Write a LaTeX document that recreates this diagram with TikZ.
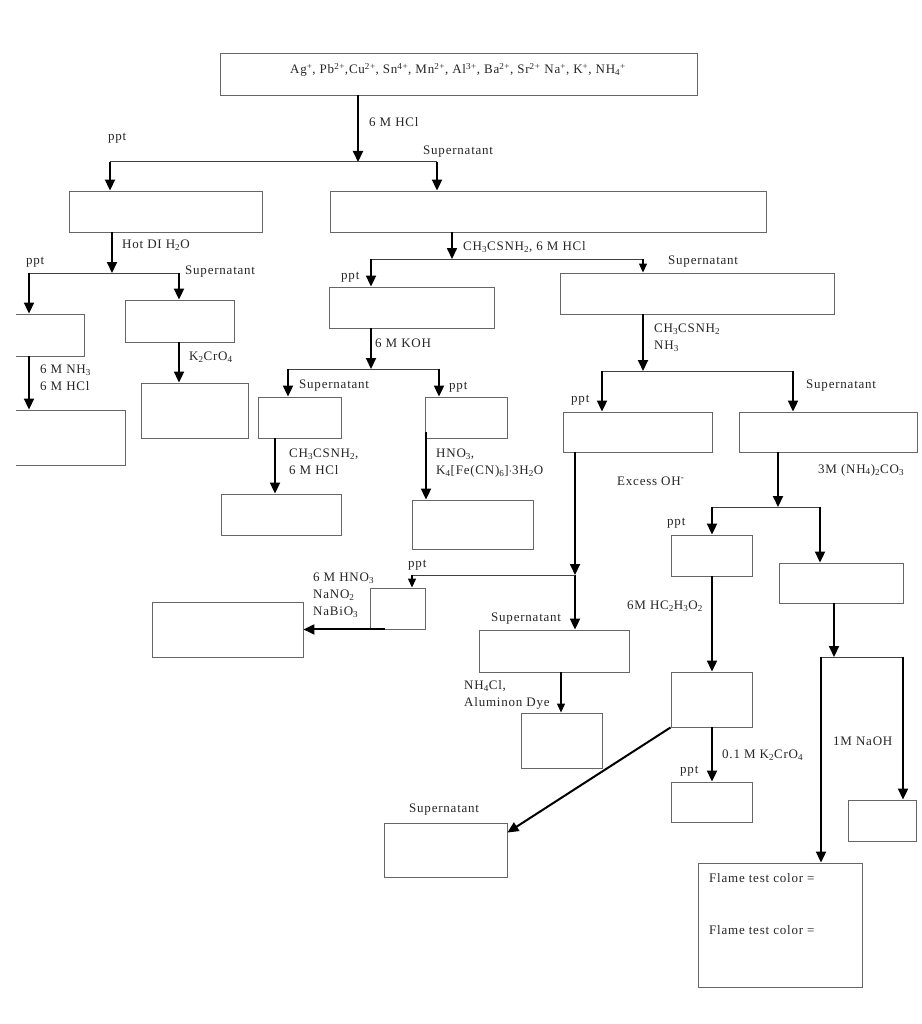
\documentclass[tikz,border=0pt]{standalone}
\usepackage{fontspec}
\setmainfont{Liberation Serif}
\newfontfamily\lblfont[LetterSpace=6]{Liberation Serif}
\usetikzlibrary{arrows.meta,fit,calc}
\newcommand\ssb[1]{\textsubscript{#1}}
\newcommand\ssp[1]{\textsuperscript{#1}}
\begin{document}
\begin{tikzpicture}[x=1pt,y=-1pt,
  bx/.style={draw=black!60,line width=0.9pt,inner sep=0pt},
  arr/.style={draw=black,line width=2pt,-{Triangle[length=11pt,width=10pt]}},
  arrs/.style={draw=black,line width=1.2pt,-{Triangle[length=9pt,width=8pt]}},
  ln/.style={draw=black!75,line width=1pt},
  lbl/.style={font=\lblfont\fontsize{13}{17}\selectfont,text=black!85,inner sep=0pt,anchor=west,align=left}]
\useasboundingbox (0,0) rectangle (921,1024);
\fill[white] (0,0) rectangle (921,1024);
\clip (16,0) rectangle (921,1024);
% boxes
\node (A) [bx, fit={(220,53)(697,95)}] {};
\node (B) [bx, fit={(69,191)(262,232)}] {};
\node (C) [bx, fit={(-20,314)(84,356)}] {};
\node (D) [bx, fit={(-20,410)(125,465)}] {};
\node (E) [bx, fit={(125,300)(234,342)}] {};
\node (F) [bx, fit={(141,383)(248,438)}] {};
\node (G) [bx, fit={(330,191)(766,232)}] {};
\node (H) [bx, fit={(329,287)(494,328)}] {};
\node (I) [bx, fit={(258,397)(341,438)}] {};
\node (J) [bx, fit={(425,397)(507,438)}] {};
\node (K) [bx, fit={(221,494)(341,535)}] {};
\node (L) [bx, fit={(412,500)(533,549)}] {};
\node (M) [bx, fit={(560,273)(834,314)}] {};
\node (N) [bx, fit={(563,412)(712,452)}] {};
\node (O) [bx, fit={(739,412)(917,452)}] {};
\node (P) [bx, fit={(671,535)(752,576)}] {};
\node (Q) [bx, fit={(779,563)(903,603)}] {};
\node (R) [bx, fit={(671,672)(752,727)}] {};
\node (S) [bx, fit={(671,782)(752,822)}] {};
\node (T) [bx, fit={(848,800)(916,841)}] {};
\node (U) [bx, fit={(698,863)(862,987)}] {};
\node (V) [bx, fit={(384,823)(507,877)}] {};
\node (W) [bx, fit={(370,588)(425,629)}] {};
\node (X) [bx, fit={(152,602)(303,657)}] {};
\node (Y) [bx, fit={(479,630)(629,672)}] {};
\node (Z) [bx, fit={(521,713)(602,768)}] {};
% junctions
\coordinate (j1) at (358,162); \coordinate (l1) at (110,162); \coordinate (r1) at (437,162);
\coordinate (j2) at (112,273); \coordinate (l2) at (29,273);  \coordinate (r2) at (179,273);
\coordinate (j3) at (452,259); \coordinate (l3) at (371,259); \coordinate (r3) at (643,259);
\coordinate (j4) at (371,369); \coordinate (l4) at (288,369); \coordinate (r4) at (439,369);
\coordinate (j5) at (643,371); \coordinate (l5) at (602,371); \coordinate (r5) at (793,371);
\coordinate (j6) at (575,575); \coordinate (w6) at (412,575);
\coordinate (j7) at (778,507); \coordinate (l7) at (712,507); \coordinate (r7) at (820,507);
\coordinate (j8) at (834,657); \coordinate (l8) at (821,657); \coordinate (r8) at (903,657);
\coordinate (xk) at (275,0); \coordinate (xl) at (426,0); \coordinate (zx) at (561,0);
% connectors
\draw[arr] (A.south -| j1) -- (j1);
\draw[ln] (l1) -- (r1);
\draw[arr] (l1) -- (B.north -| l1);
\draw[arr] (r1) -- (G.north -| r1);
\draw[arr] (B.south -| j2) -- (j2);
\draw[ln] (l2) -- (r2);
\draw[arr] (l2) -- (C.north -| l2);
\draw[arr] (r2) -- (E.north -| r2);
\draw[arr] (C.south -| l2) -- (D.north -| l2);
\draw[arr] (E.south -| r2) -- (F.north -| r2);
\draw[arr] (G.south -| j3) -- (j3);
\draw[ln] (l3) -- (r3);
\draw[arr] (l3) -- (H.north -| l3);
\draw[arrs] (r3) -- (M.north -| r3);
\draw[arr] (H.south -| j4) -- (j4);
\draw[ln] (l4) -- (r4);
\draw[arr] (l4) -- (I.north -| l4);
\draw[arr] (r4) -- (J.north -| r4);
\draw[arr] (I.south -| xk) -- (K.north -| xk);
\draw[arr] ($(J.south -| xl)+(0,-6)$) -- (L.north -| xl);
\draw[arr] (M.south -| j5) -- (j5);
\draw[ln] (l5) -- (r5);
\draw[arr] (l5) -- (N.north -| l5);
\draw[arr] (r5) -- (O.north -| r5);
\draw[arr] (N.south -| j6) -- (j6);
\draw[arr] (j6) -- (Y.north -| j6);
\draw[ln] (j6) -- (w6);
\draw[arrs] (w6) -- (W.north -| w6);
\draw[arr] ($(W.south west)+(15,0)$) -- (X.east |- W.south);
\draw[arrs] (Y.south -| zx) -- (Z.north -| zx);
\draw[arr] (O.south -| j7) -- (j7);
\draw[ln] (l7) -- (r7);
\draw[arr] (l7) -- (P.north -| l7);
\draw[arr] (r7) -- (Q.north -| r7);
\draw[arr] (P.south -| l7) -- (R.north -| l7);
\draw[arr] (R.south -| l7) -- (S.north -| l7);
\draw[arr] (Q.south -| j8) -- (j8);
\draw[ln] (l8) -- (r8);
\draw[arr] (l8) -- (U.north -| l8);
\draw[arr] (r8) -- (T.north -| r8);
\draw[arr] (R.south west) -- ($(V.north east)+(0,10)$);
% texts
\node[lbl,anchor=center] (tA) at (458,70) {Ag\ssp{+}, Pb\ssp{2+},Cu\ssp{2+}, Sn\ssp{4+}, Mn\ssp{2+}, Al\ssp{3+}, Ba\ssp{2+}, Sr\ssp{2+} Na\ssp{+}, K\ssp{+}, NH\ssb{4}\ssp{+}};
\node[lbl] (t1) at (369,122) {6 M HCl};
\node[lbl] (t2) at (108,138) {ppt};
\node[lbl] (t3) at (423,152) {Supernatant};
\node[lbl] (t4) at (122,245) {Hot DI H\ssb{2}O};
\node[lbl] (t5) at (26,262) {ppt};
\node[lbl] (t6) at (185,272) {Supernatant};
\node[lbl] (t7) at (40,378) {6 M NH\ssb{3}\\6 M HCl};
\node[lbl] (t8) at (189,357) {K\ssb{2}CrO\ssb{4}};
\node[lbl] (t9) at (463,247) {CH\ssb{3}CSNH\ssb{2}, 6 M HCl};
\node[lbl] (t10) at (341,277) {ppt};
\node[lbl] (t11) at (668,262) {Supernatant};
\node[lbl] (t12) at (375,343) {6 M KOH};
\node[lbl] (t13) at (299,386) {Supernatant};
\node[lbl] (t14) at (449,387) {ppt};
\node[lbl] (t15) at (289,462) {CH\ssb{3}CSNH\ssb{2},\\6 M HCl};
\node[lbl] (t16) at (436,463) {HNO\ssb{3},\\K\ssb{4}[Fe(CN)\ssb{6}]$\cdot$3H\ssb{2}O};
\node[lbl] (t17) at (654,338) {CH\ssb{3}CSNH\ssb{2}\\NH\ssb{3}};
\node[lbl] (t18) at (571,400) {ppt};
\node[lbl] (t19) at (806,386) {Supernatant};
\node[lbl] (t20) at (818,470) {3M (NH\ssb{4})\ssb{2}CO\ssb{3}};
\node[lbl] (t21) at (617,481) {Excess OH\ssp{-}};
\node[lbl] (t22) at (408,565) {ppt};
\node[lbl] (t23) at (313,595) {6 M HNO\ssb{3}\\NaNO\ssb{2}\\NaBiO\ssb{3}};
\node[lbl] (t24) at (491,619) {Supernatant};
\node[lbl] (t25) at (464,695) {NH\ssb{4}Cl,\\Aluminon Dye};
\node[lbl] (t26) at (667,523) {ppt};
\node[lbl] (t27) at (627,606) {6M HC\ssb{2}H\ssb{3}O\ssb{2}};
\node[lbl] (t28) at (722,755) {0.1 M K\ssb{2}CrO\ssb{4}};
\node[lbl] (t29) at (680,771) {ppt};
\node[lbl] (t30) at (833,741) {1M NaOH};
\node[lbl] (t31) at (409,810) {Supernatant};
\node[lbl] (t32) at (709,878) {Flame test color =};
\node[lbl] (t33) at (709,930) {Flame test color =};
\end{tikzpicture}
\end{document}
